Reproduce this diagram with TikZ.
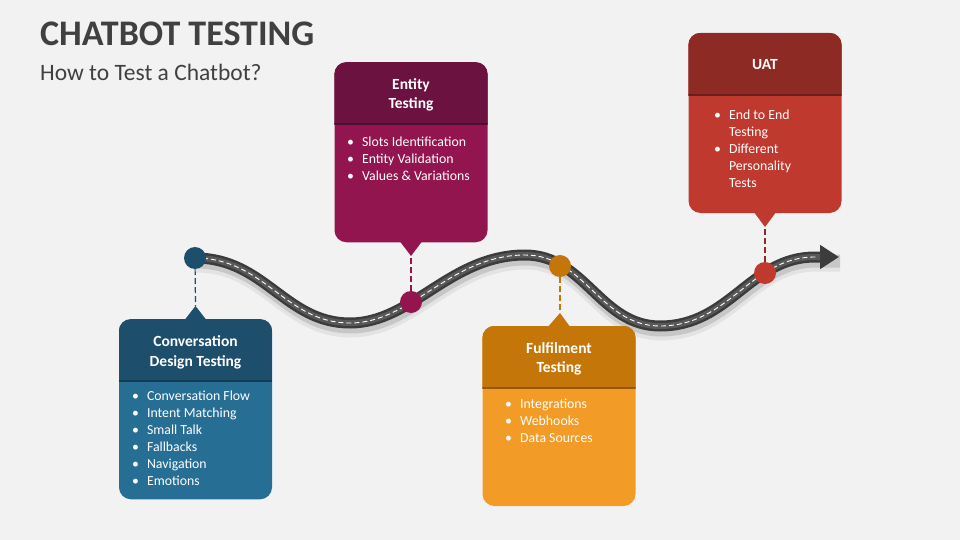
\documentclass[tikz,border=0pt]{standalone}
\usepackage{fontspec}
\setmainfont{Carlito}
\usetikzlibrary{arrows.meta,calc}

\definecolor{bgGray}{HTML}{F2F2F2}
\definecolor{titleGray}{HTML}{404040}
\definecolor{roadDark}{HTML}{3C3C3C}
\definecolor{roadLane}{HTML}{585858}
\definecolor{blueHdr}{HTML}{1D4E6B}
\definecolor{blueBody}{HTML}{266E94}
\definecolor{plumHdr}{HTML}{6C1240}
\definecolor{plumBody}{HTML}{93154F}
\definecolor{amberHdr}{HTML}{C57609}
\definecolor{amberBody}{HTML}{F29B26}
\definecolor{redHdr}{HTML}{8C2A23}
\definecolor{redBody}{HTML}{C0392F}

\begin{document}
\begin{tikzpicture} [x=1pt,y=-1pt,
  boxbody/.style={rounded corners=12pt, minimum width=153pt, minimum height=180pt, inner sep=0pt},
  dot/.style={circle, minimum size=22pt, inner sep=0pt},
  link/.style={dash pattern=on 6pt off 3pt, line width=1.2pt},
  hdrtext/.style={text=white, anchor=base, inner sep=0pt, font=\fontsize{15.5}{19.5}\selectfont\bfseries},
  listtext/.style={text=white, anchor=base west, inner sep=0pt, font=\fontsize{13.8}{17}\selectfont}]

\fill [bgGray] (0,0) rectangle (960,540);

% title
\node [anchor=base west, inner sep=0pt, text=titleGray, font=\fontsize{36}{40}\selectfont\bfseries] (title) at (40,46) {CHATBOT TESTING};
\node [anchor=base west, inner sep=0pt, text=titleGray, font=\fontsize{23.5}{27}\selectfont] (subtitle) at (40,81) {How to Test a Chatbot?};

% road
\def\roadpath{(195,258) .. controls (265,258) and (285,323) .. (350,323) .. controls (412,323) and (450,255) .. (525,255) .. controls (585,255) and (600,326) .. (660,326) .. controls (730,326) and (750,257) .. (815,257) -- (839,257)}
\draw [line width=17pt, black, opacity=0.06, shift={(1,6)}] \roadpath;
\draw [line width=13pt, black, opacity=0.12, shift={(1,4)}] \roadpath;
\draw [line width=11pt, roadDark, -{Triangle[length=19pt,width=23pt]}] \roadpath;
\draw [line width=6pt, roadLane, shorten >=19pt] \roadpath;
\draw [line width=0.9pt, white, dash pattern=on 5pt off 3pt, shorten >=21pt] \roadpath;

% dots on the road
\node [dot, fill=blueHdr] (convDot) at (195,258) {};
\node [dot, fill=plumBody] (entityDot) at (411,302) {};
\node [dot, fill=amberHdr] (fulfilDot) at (560,266) {};
\node [dot, fill=redBody] (uatDot) at (765,273) {};

% conversation design box
\node [boxbody, fill=blueBody] (convBox) at (195.5,409.3) {};
\begin{scope}
\clip [rounded corners=12pt] (convBox.north west) rectangle (convBox.south east);
\fill [blueHdr] (convBox.north west) rectangle ($(convBox.north east)+(0,62)$);
\draw [blueHdr!75!black, line width=1.5pt] ($(convBox.north west)+(0,62)$) -- ($(convBox.north east)+(0,62)$);
\end{scope}
\coordinate (convTip) at (195.5,306);
\fill [blueHdr] ($(convBox.north)+(-11,1)$) -- (convTip) -- ($(convBox.north)+(11,1)$) -- cycle;
\node [hdrtext] (convHdr) at (195.5,346.7) {\begin{tabular}[t]{@{}c@{}}Conversation\\Design Testing\end{tabular}};
\node [listtext] (convList) at (132,400) {\begin{tabular}[t]{@{}l@{\hspace{8pt}}l@{}}
\textbullet & Conversation Flow\\
\textbullet & Intent Matching\\
\textbullet & Small Talk\\
\textbullet & Fallbacks\\
\textbullet & Navigation\\
\textbullet & Emotions\end{tabular}};

% entity box
\node [boxbody, fill=plumBody] (entityBox) at (411,152.3) {};
\begin{scope}
\clip [rounded corners=12pt] (entityBox.north west) rectangle (entityBox.south east);
\fill [plumHdr] (entityBox.north west) rectangle ($(entityBox.north east)+(0,62)$);
\draw [plumHdr!75!black, line width=1.5pt] ($(entityBox.north west)+(0,62)$) -- ($(entityBox.north east)+(0,62)$);
\end{scope}
\coordinate (entityTip) at (411,256);
\fill [plumBody] ($(entityBox.south)+(-11,-1)$) -- (entityTip) -- ($(entityBox.south)+(11,-1)$) -- cycle;
\node [hdrtext] (entityHdr) at (411,89.3) {\begin{tabular}[t]{@{}c@{}}Entity\\Testing\end{tabular}};
\node [listtext] (entityList) at (347,146.7) {\begin{tabular}[t]{@{}l@{\hspace{8pt}}l@{}}
\textbullet & Slots Identification\\
\textbullet & Entity Validation\\
\textbullet & Values \& Variations\end{tabular}};

% fulfilment box
\node [boxbody, fill=amberBody] (fulfilBox) at (559,416) {};
\begin{scope}
\clip [rounded corners=12pt] (fulfilBox.north west) rectangle (fulfilBox.south east);
\fill [amberHdr] (fulfilBox.north west) rectangle ($(fulfilBox.north east)+(0,62)$);
\draw [amberHdr!75!black, line width=1.5pt] ($(fulfilBox.north west)+(0,62)$) -- ($(fulfilBox.north east)+(0,62)$);
\end{scope}
\coordinate (fulfilTip) at (560,313);
\fill [amberHdr] ($(fulfilBox.north)+(-11,1)$) -- (fulfilTip) -- ($(fulfilBox.north)+(11,1)$) -- cycle;
\node [hdrtext] (fulfilHdr) at (559,353.3) {\begin{tabular}[t]{@{}c@{}}Fulfilment\\Testing\end{tabular}};
\node [listtext] (fulfilList) at (505,408.3) {\begin{tabular}[t]{@{}l@{\hspace{8pt}}l@{}}
\textbullet & Integrations\\
\textbullet & Webhooks\\
\textbullet & Data Sources\end{tabular}};

% UAT box
\node [boxbody, fill=redBody] (uatBox) at (765,123) {};
\begin{scope}
\clip [rounded corners=12pt] (uatBox.north west) rectangle (uatBox.south east);
\fill [redHdr] (uatBox.north west) rectangle ($(uatBox.north east)+(0,62)$);
\draw [redHdr!75!black, line width=1.5pt] ($(uatBox.north west)+(0,62)$) -- ($(uatBox.north east)+(0,62)$);
\end{scope}
\coordinate (uatTip) at (765,227);
\fill [redBody] ($(uatBox.south)+(-11,-1)$) -- (uatTip) -- ($(uatBox.south)+(11,-1)$) -- cycle;
\node [hdrtext] (uatHdr) at (765,70) {UAT};
\node [listtext] (uatList) at (714,119.3) {\begin{tabular}[t]{@{}l@{\hspace{8pt}}l@{}}
\textbullet & End to End\\
 & Testing\\
\textbullet & Different\\
 & Personality\\
 & Tests\end{tabular}};

% dashed links
\draw [link, blueHdr] (convDot) -- (convTip);
\draw [link, plumBody] (entityDot) -- (entityTip);
\draw [link, amberHdr] (fulfilDot) -- (fulfilTip);
\draw [link, redHdr] (uatDot) -- (uatTip);

\end{tikzpicture}
\end{document}
